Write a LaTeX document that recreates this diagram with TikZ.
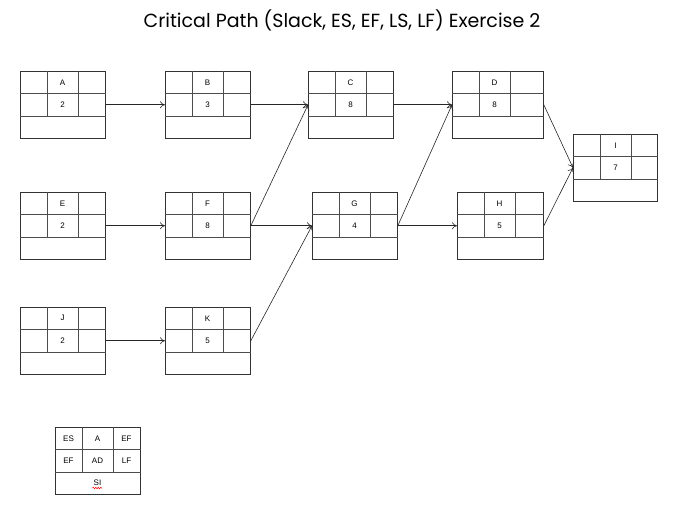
\documentclass[tikz,border=0pt]{standalone}
\usepackage{fontspec}
\setmainfont{Liberation Sans}
\newfontfamily\titlefont{Poppins}
\usepackage{tikz}
\usetikzlibrary{arrows.meta, positioning, calc, decorations.pathmorphing}
\tikzstyle{arrow} = [-{To[length=5pt, width=7pt]}, line width=0.6pt, black!85]

% grid of one activity box: name, left, top, width
\newcommand{\boxgrid}[4]{%
  \node[actbox, minimum width=#4pt, anchor=north west] (#1) at (#2,#3) {};
  \draw[gridline] ($(#1.north west)+(0,22.5)$) -- ($(#1.north east)+(0,22.5)$);
  \draw[gridline] ($(#1.north west)+(0,45)$) -- ($(#1.north east)+(0,45)$);
  \draw[gridline] ($(#1.north west)+(27,0)$) -- ($(#1.north west)+(27,45)$);
  \draw[gridline] ($(#1.north west)+(58,0)$) -- ($(#1.north west)+(58,45)$);
}
% activity: name, left, top, width, letter, duration
\newcommand{\activity}[6]{%
  \boxgrid{#1}{#2}{#3}{#4}
  \node[cell] (#1-name) at ($(#1.north west)+(42.5,11.25)$) {#5};
  \node[cell] (#1-dur) at ($(#1.north west)+(42.5,33.75)$) {#6};
  \coordinate (#1-in) at ($(#1.north west)+(0,33.75)$);
  \coordinate (#1-out) at ($(#1.north east)+(0,33.75)$);
}

\begin{document}
\begin{tikzpicture}[x=1pt, y=-1pt,
  actbox/.style={draw=black!80, line width=0.8pt, minimum height=67pt, inner sep=0pt},
  gridline/.style={draw=black!70, line width=0.7pt},
  cell/.style={font=\fontsize{8}{9.5}\selectfont, inner sep=0pt}
]
\useasboundingbox (0,0) rectangle (683,509);

% Title
\node[font=\titlefont\fontsize{19}{22}\selectfont] (title) at (342,20)
  {Critical Path (Slack, ES, EF, LS, LF) Exercise 2};

% Top row
\activity{A}{20}{71}{85}{A}{2}
\activity{B}{165}{71}{85}{B}{3}
\activity{C}{308}{71}{85}{C}{8}
\activity{D}{452}{71}{91}{D}{8}

% Middle row
\activity{E}{20}{192}{85}{E}{2}
\activity{F}{165}{192}{85}{F}{8}
\activity{G}{312}{192}{85}{G}{4}
\activity{H}{457}{192}{86}{H}{5}

% End activity
\activity{I}{573}{134}{84}{I}{7}

% Bottom row
\activity{J}{20}{307}{85}{J}{2}
\activity{K}{165}{307}{85}{K}{5}

% Legend
\boxgrid{key}{55}{427}{85}
\node[cell] (key-es) at ($(key.north west)+(13.5,11.25)$) {ES};
\node[cell] (key-a)  at ($(key.north west)+(42.5,11.25)$) {A};
\node[cell] (key-ef) at ($(key.north west)+(71.5,11.25)$) {EF};
\node[cell] (key-ef2) at ($(key.north west)+(13.5,33.75)$) {EF};
\node[cell] (key-ad) at ($(key.north west)+(42.5,33.75)$) {AD};
\node[cell] (key-lf) at ($(key.north west)+(71.5,33.75)$) {LF};
\node[cell] (key-sl) at ($(key.north west)+(42.5,56)$) {SI};
\draw[red, line width=0.5pt, decorate, decoration={snake, amplitude=0.8pt, segment length=2.5pt}]
  ($(key-sl.south west)+(-1,2)$) -- ($(key-sl.south east)+(1,2)$);

% Arrows
\draw[arrow] (A-out) -- (B-in);
\draw[arrow] (B-out) -- (C-in);
\draw[arrow] (C-out) -- (D-in);
\draw[arrow] (E-out) -- (F-in);
\draw[arrow] (F-out) -- (C-in);
\draw[arrow] (F-out) -- (G-in);
\draw[arrow] (G-out) -- (D-in);
\draw[arrow] (G-out) -- (H-in);
\draw[arrow] (J-out) -- (K-in);
\draw[arrow] (K-out) -- (G-in);
\draw[arrow] (D-out) -- (I-in);
\draw[arrow] (H-out) -- (I-in);

\end{tikzpicture}
\end{document}
